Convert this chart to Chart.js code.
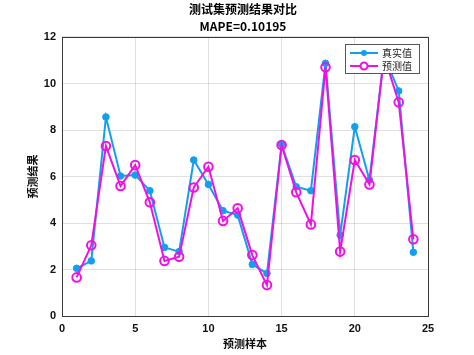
<!DOCTYPE html>
<html>
<head>
<meta charset="utf-8">
<script src="https://cdn.jsdelivr.net/npm/chart.js@4/dist/chart.umd.min.js"></script>
<style>
html,body{margin:0;padding:0;background:#fff;}
#wrap{width:474px;height:355px;position:relative;}
</style>
</head>
<body>
<div id="wrap"><canvas id="c" width="474" height="355"></canvas></div>
<script>
const titleLines = ['测试集预测结果对比', 'MAPE=0.10195'];
const xLabel = '预测样本';
const yLabel = '预测结果';
const seriesNames = ['真实值', '预测值'];
const samples = [1,2,3,4,5,6,7,8,9,10,11,12,13,14,15,16,17,18,19,20,21,22,23,24];
const actual = [2.05,2.37,8.56,6.02,6.06,5.39,2.95,2.77,6.71,5.66,4.53,4.34,2.22,1.83,7.38,5.56,5.39,10.87,3.48,8.14,5.85,11.2,9.68,2.74];
const predicted = [1.66,3.04,7.31,5.59,6.49,4.89,2.37,2.55,5.53,6.42,4.09,4.63,2.62,1.33,7.35,5.32,3.94,10.70,2.77,6.71,5.66,11.2,9.19,3.30];
const xTicks = [0,5,10,15,20,25];
const yTicks = [0,2,4,6,8,10,12];

const BLUE = '#12A0EE';
const MAG = '#F010E6';

const toPts = (ys) => samples.map((x, i) => ({x: x, y: ys[i]}));

const boxPlugin = {
  id: 'box',
  afterDatasetsDraw(chart) {
    const {ctx, chartArea: a} = chart;
    ctx.save();
    ctx.strokeStyle = '#3a3a3a';
    ctx.lineWidth = 1;
    ctx.strokeRect(Math.round(a.left) + 0.5, Math.round(a.top) + 0.5, Math.round(a.right - a.left), Math.round(a.bottom - a.top));
    // legend
    const bx = 345.5, by = 44.5, bw = 74, bh = 29;
    ctx.fillStyle = '#fff';
    ctx.fillRect(bx, by, bw, bh);
    ctx.strokeStyle = '#555';
    ctx.strokeRect(bx, by, bw, bh);
    const rows = [
      {y: 53, color: BLUE, fill: true, label: chart.data.datasets[0].label},
      {y: 66, color: MAG, fill: false, label: chart.data.datasets[1].label}
    ];
    rows.forEach(r => {
      ctx.strokeStyle = r.color;
      ctx.lineWidth = 2;
      ctx.beginPath();
      ctx.moveTo(350, r.y);
      ctx.lineTo(378, r.y);
      ctx.stroke();
      ctx.beginPath();
      ctx.arc(364, r.y, r.fill ? 3 : 3.5, 0, Math.PI * 2);
      if (r.fill) { ctx.fillStyle = r.color; ctx.fill(); }
      else { ctx.fillStyle = '#fff'; ctx.fill(); ctx.stroke(); }
      ctx.fillStyle = '#222';
      ctx.font = '10px "Noto Sans CJK SC"';
      ctx.textBaseline = 'middle';
      ctx.textAlign = 'left';
      ctx.fillText(r.label, 382, r.y);
    });
    ctx.restore();
  }
};

const tickFont = {family: '"Liberation Sans", Arial, sans-serif', size: 11, weight: 'bold'};
const cjkFont = {family: '"Noto Sans CJK SC", sans-serif', size: 11, weight: 'bold'};

new Chart(document.getElementById('c'), {
  type: 'line',
  data: {
    datasets: [
      {
        label: seriesNames[0],
        data: toPts(actual),
        borderColor: BLUE,
        backgroundColor: BLUE,
        borderWidth: 2,
        pointRadius: 3.3,
        pointBorderWidth: 1,
        pointBackgroundColor: BLUE,
        pointBorderColor: BLUE,
        tension: 0,
        order: 1
      },
      {
        label: seriesNames[1],
        data: toPts(predicted),
        borderColor: MAG,
        backgroundColor: MAG,
        borderWidth: 2,
        pointRadius: 4.3,
        pointBorderWidth: 2,
        pointBackgroundColor: 'rgba(255,255,255,0)',
        pointBorderColor: MAG,
        tension: 0,
        order: 0
      }
    ]
  },
  options: {
    responsive: false,
    animation: false,
    devicePixelRatio: 1,
    layout: {padding: {left: 12, right: 0, top: 0, bottom: 0}},
    plugins: {
      legend: {display: false},
      tooltip: {enabled: false},
      title: {
        display: true,
        text: titleLines,
        color: '#000',
        font: {family: '"Noto Sans CJK SC", "Liberation Sans", sans-serif', size: 12, weight: 'bold', lineHeight: 1.4},
        padding: {top: 1, bottom: 2.4}
      }
    },
    scales: {
      x: {
        type: 'linear',
        min: 0, max: 25,
        afterBuildTicks(s) { s.ticks = xTicks.map(v => ({value: v})); },
        afterFit(s) { s.height = 39; },
        grid: {color: 'rgba(0,0,0,0.12)', drawTicks: false},
        border: {display: false},
        ticks: {font: tickFont, color: '#111', padding: 6, maxRotation: 0},
        title: {display: true, text: xLabel, font: cjkFont, color: '#111', padding: {top: 0, bottom: 5}}
      },
      y: {
        type: 'linear',
        min: 0, max: 12,
        afterBuildTicks(s) { s.ticks = yTicks.map(v => ({value: v})); },
        afterFit(s) { s.width = 50; },
        grid: {color: 'rgba(0,0,0,0.12)', drawTicks: false},
        border: {display: false},
        ticks: {font: tickFont, color: '#111', padding: 6},
        title: {display: true, text: yLabel, font: cjkFont, color: '#111', padding: {top: 14, bottom: 0}}
      },
      yRight: {
        type: 'linear',
        position: 'right',
        min: 0, max: 12,
        afterFit(s) { s.width = 46; },
        grid: {display: false, drawTicks: false},
        border: {display: false},
        ticks: {display: false}
      }
    }
  },
  plugins: [boxPlugin]
});
</script>
</body>
</html>
